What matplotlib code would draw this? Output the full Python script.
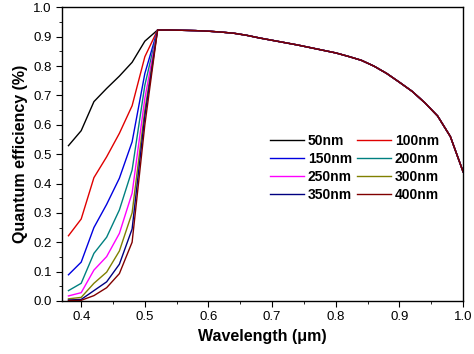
import matplotlib
matplotlib.use("Agg")
import matplotlib.pyplot as plt
from matplotlib.ticker import MultipleLocator

plt.rcParams['font.family'] = ['Liberation Sans', 'DejaVu Sans']

# short-wavelength part, one list per thickness (0.38 ... 0.52 um)
wl_short = [0.38, 0.40, 0.42, 0.44, 0.46, 0.48, 0.50, 0.52]
qe_50 = [0.529, 0.580, 0.679, 0.724, 0.766, 0.813, 0.885, 0.923]
qe_100 = [0.222, 0.279, 0.420, 0.491, 0.571, 0.665, 0.832, 0.923]
qe_150 = [0.089, 0.132, 0.250, 0.329, 0.418, 0.542, 0.775, 0.923]
qe_200 = [0.035, 0.060, 0.162, 0.217, 0.310, 0.446, 0.735, 0.923]
qe_250 = [0.017, 0.028, 0.105, 0.151, 0.230, 0.367, 0.690, 0.923]
qe_300 = [0.007, 0.012, 0.060, 0.098, 0.170, 0.300, 0.650, 0.923]
qe_350 = [0.003, 0.005, 0.035, 0.065, 0.125, 0.245, 0.630, 0.923]
qe_400 = [0.001, 0.002, 0.018, 0.045, 0.093, 0.200, 0.600, 0.923]

# long-wavelength part, shared by all curves
wl_long = [0.54, 0.56, 0.58, 0.60, 0.62, 0.64, 0.66, 0.68, 0.70, 0.72, 0.74,
           0.76, 0.78, 0.80, 0.82, 0.84, 0.86, 0.88, 0.90, 0.92, 0.94, 0.96,
           0.98, 1.00]
qe_long = [0.923, 0.922, 0.921, 0.919, 0.916, 0.912, 0.905, 0.896, 0.888,
           0.880, 0.872, 0.863, 0.854, 0.845, 0.833, 0.820, 0.800, 0.775,
           0.745, 0.714, 0.675, 0.630, 0.560, 0.440]

labels = ['50nm', '100nm', '150nm', '200nm', '250nm', '300nm', '350nm', '400nm']
series = [qe_50, qe_100, qe_150, qe_200, qe_250, qe_300, qe_350, qe_400]
colors = ['#000000', '#e00000', '#0000e0', '#008080',
          '#ff00ff', '#808000', '#000080', '#800000']

fig = plt.figure(figsize=(4.74, 3.54), dpi=100)
ax = fig.add_axes([0.131, 0.150, 0.846, 0.829])

lines = []
for qe, lab, c in zip(series, labels, colors):
    ln, = ax.plot(wl_short + wl_long, qe + qe_long, color=c, lw=1.0, label=lab)
    lines.append(ln)

ax.set_xlim(0.37, 1.0)
ax.set_ylim(0.0, 1.0)
ax.xaxis.set_major_locator(MultipleLocator(0.1))
ax.xaxis.set_minor_locator(MultipleLocator(0.05))
ax.yaxis.set_major_locator(MultipleLocator(0.1))
ax.yaxis.set_minor_locator(MultipleLocator(0.05))
ax.tick_params(which='both', direction='out', top=False, right=False, labelsize=9.5)
ax.tick_params(which='major', length=4)
ax.tick_params(which='minor', length=2)
for s in ax.spines.values():
    s.set_linewidth(1.0)

ax.set_xlabel('Wavelength (μm)', fontsize=11.5, fontweight='bold')
ax.set_ylabel('Quantum efficiency (%)', fontsize=11.5, fontweight='bold')

# legend filled row by row like the original
order = [0, 2, 4, 6, 1, 3, 5, 7]
ax.legend([lines[i] for i in order], [labels[i] for i in order],
          ncol=2, frameon=False, loc='upper left', bbox_to_anchor=(0.519, 0.57),
          borderaxespad=0, borderpad=0,
          prop={'weight': 'bold', 'size': 10}, handlelength=2.4,
          columnspacing=0.4, handletextpad=0.3, labelspacing=0.3)

fig.savefig('out.png', dpi=100)
